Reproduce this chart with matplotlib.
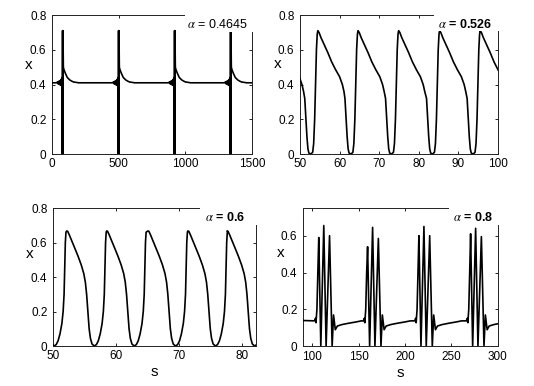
import numpy as np
import matplotlib
matplotlib.use("Agg")
import matplotlib.pyplot as plt
from matplotlib.patches import Rectangle

plt.rcParams['font.family'] = ['Liberation Sans', 'DejaVu Sans']
plt.rcParams['mathtext.fontset'] = 'stix'

# ---- panel 1 : alpha = 0.4645 (spike times and one spike template)
p1_spikes = [80, 500, 920, 1340]
p1_base = 0.41
p1_off = [-45, -40, -36, -32, -28, -24, -20, -16, -12, -9, -6, -4, -2.5, -1, 0.5, 2,
          5, 10, 20, 35, 55, 80, 120, 160]
p1_val = [0.41, 0.415, 0.405, 0.418, 0.402, 0.42, 0.398, 0.425, 0.395, 0.432, 0.388, 0.44,
          0.0, 0.71, 0.0, 0.71, 0.50, 0.485, 0.465, 0.44, 0.425, 0.415, 0.41, 0.41]

# ---- panel 2 : alpha = 0.526 (peak times and one cycle around a peak)
p2_peaks = [44.3, 54.5, 64.65, 74.9, 85.25, 95.5]
p2_off = [-3.3, -3.0, -2.75, -2.5, -2.25, -1.75, -1.3, -1.05, -0.8, -0.55, -0.35, -0.15, 0,
          0.3, 0.8, 1.5, 2.5, 3.5, 4.5, 5.5, 6.2, 6.6]
p2_val = [0.32, 0.2, 0.1, 0.03, 0.005, 0.0, 0.01, 0.06, 0.2, 0.42, 0.6, 0.69, 0.71,
          0.70, 0.67, 0.635, 0.585, 0.53, 0.485, 0.445, 0.40, 0.36]

# ---- panel 3 : alpha = 0.6
p3_peaks = [45.8, 52.17, 58.49, 65.03, 71.35, 77.56]
p3_off = [0, 0.15, 0.4, 0.8, 1.3, 1.8, 2.3, 2.7, 2.95, 3.15, 3.35, 3.55, 3.75, 4.0, 4.35,
          4.7, 5.0, 5.3, 5.6, 5.8, 5.95, 6.05, 6.15, 6.25]
p3_val = [0.667, 0.665, 0.645, 0.61, 0.565, 0.52, 0.47, 0.42, 0.37, 0.30, 0.20, 0.10, 0.045,
          0.012, 0.0, 0.008, 0.03, 0.07, 0.13, 0.2, 0.3, 0.45, 0.6, 0.66]

# ---- panel 4 : alpha = 0.8 (bursts of three spikes)
p4_bursts = [107.0, 159.6, 214.9, 270.6]
p4_heights = [[0.59, 0.655, 0.60],
              [0.54, 0.645, 0.585],
              [0.60, 0.65, 0.60],
              [0.61, 0.64, 0.595]]
p4_pre_off = [-4.5, -3.5, -3.0, -2.0, -1.0]
p4_pre_val = [0.138, 0.152, 0.128, 0.2, 0.4]
p4_peak_off = [0, 5.4, 11.6]
p4_zero_off = [2.2, 7.9, 14.4]
p4_post_off = [15.9, 17.8, 20, 25, 32, 40, 46]
p4_post_val = [0.17, 0.09, 0.11, 0.118, 0.125, 0.132, 0.138]
p4_start = (90, 0.14)

alphas = [r'$\alpha$ = 0.4645', r'$\alpha$ = 0.526', r'$\alpha$ = 0.6', r'$\alpha$ = 0.8']


def tile(peaks, off, val):
    t, x = [], []
    for p in peaks:
        t += [p + o for o in off]
        x += list(val)
    return np.array(t), np.array(x)


t1, x1 = [0], [p1_base]
for s in p1_spikes:
    t1 += [s + o for o in p1_off]
    x1 += p1_val
t1 += [1500]
x1 += [p1_base]

t2, x2 = tile(p2_peaks, p2_off, p2_val)
t3, x3 = tile(p3_peaks, p3_off, p3_val)

t4, x4 = [p4_start[0]], [p4_start[1]]
for b, h in zip(p4_bursts, p4_heights):
    t4 += [b + o for o in p4_pre_off]
    x4 += p4_pre_val
    for k in range(3):
        t4 += [b + p4_peak_off[k], b + p4_zero_off[k]]
        x4 += [h[k], 0.0]
    t4 += [b + o for o in p4_post_off]
    x4 += p4_post_val

fig = plt.figure(figsize=(5.34, 3.86), dpi=100)
rects = [[0.0974, 0.601, 0.3745, 0.360],
         [0.5618, 0.601, 0.3708, 0.360],
         [0.0993, 0.1036, 0.3796, 0.3575],
         [0.5674, 0.1028, 0.3650, 0.3583]]
series = [(t1, x1), (t2, x2), (t3, x3), (t4, x4)]
xlims = [(0, 1500), (50, 100), (50, 82.1), (90, 300)]
ylims = [(0, 0.8), (0, 0.8), (0, 0.8), (0, 0.75)]
xticks = [[0, 500, 1000, 1500], [50, 60, 70, 80, 90, 100], [50, 60, 70, 80],
          [100, 150, 200, 250, 300]]
yticks = [[0, 0.2, 0.4, 0.6, 0.8]] * 3 + [[0, 0.2, 0.4, 0.6]]
boxes = [(0.665, 0.878), (0.675, 0.885), (0.725, 0.877), (0.747, 0.877)]
txt_x = [0.98, 0.97, 0.947, 0.978]
ylab_y = [0.59, 0.597, 0.614, 0.626]

for i in range(4):
    ax = fig.add_axes(rects[i])
    t, x = series[i]
    ax.plot(t, x, color='black', lw=1.2, zorder=3)
    ax.set_xlim(*xlims[i])
    ax.set_ylim(*ylims[i])
    ax.set_xticks(xticks[i])
    ax.set_yticks(yticks[i])
    ax.set_yticklabels([('%g' % v) for v in yticks[i]])
    ax.tick_params(direction='in', top=True, right=True, length=2.5, width=0.6,
                   labelsize=8.5)
    ax.tick_params(axis='x', pad=3.2)
    ax.tick_params(axis='y', pad=4)
    for sp in ax.spines.values():
        sp.set_linewidth(0.7)
        sp.set_color('#222222')
    ax.set_ylabel('x', rotation=0, fontsize=11)
    ax.yaxis.set_label_coords(-0.115, ylab_y[i])
    if i >= 2:
        ax.set_xlabel('s', fontsize=11, labelpad=2)
    bx, by = boxes[i]
    ax.add_patch(Rectangle((bx, by), 1.02 - bx, 1.03 - by, transform=ax.transAxes,
                           facecolor='white', edgecolor='none', clip_on=False, zorder=4))
    ax.text(txt_x[i], 0.93, alphas[i], transform=ax.transAxes, ha='right', va='center',
            fontsize=9, fontweight='normal' if i == 0 else 'bold', zorder=5)

fig.savefig('out.png', dpi=100)
